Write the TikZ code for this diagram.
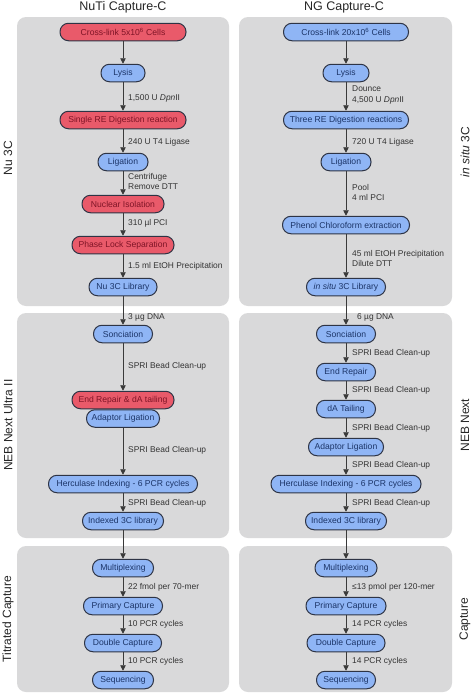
\documentclass[tikz,border=0pt]{standalone}
\usepackage{fontspec}
\setmainfont{Liberation Sans}
\usetikzlibrary{arrows.meta}
\definecolor{panelgray}{HTML}{D9D9DA}
\definecolor{redfill}{HTML}{E95A6A}
\definecolor{redtext}{HTML}{7E1426}
\definecolor{bluefill}{HTML}{8FB5F5}
\definecolor{bluetext}{HTML}{1C3568}
\definecolor{edgecol}{HTML}{2E3445}
\definecolor{arrowcol}{HTML}{3A3A3A}
\tikzset{
  panel/.style={fill=panelgray, draw=none, rounded corners=9pt},
  pill/.style={draw=edgecol, line width=1pt, rounded corners=8.5pt, minimum height=17.5pt, inner sep=0pt, font=\fontsize{8.6}{10}\selectfont},
  redbox/.style={pill, fill=redfill, text=redtext},
  bluebox/.style={pill, fill=bluefill, text=bluetext},
  flow/.style={draw=arrowcol, line width=0.9pt, -{Triangle[length=5.5pt,width=5.5pt]}},
  lab/.style={anchor=west, inner sep=0pt, align=left, text=black!80, font=\fontsize{8.4}{10.5}\selectfont},
  title/.style={font=\fontsize{12.5}{14}\selectfont, text=black!85},
  side/.style={rotate=90, font=\fontsize{12}{14}\selectfont, text=black!85}
}
\begin{document}
\begin{tikzpicture}[x=1pt,y=-1pt]
\useasboundingbox[fill=white] (0,0) rectangle (474,696);
% panels
\fill[panel] (17,17) rectangle (229,306);
\fill[panel] (17,313) rectangle (229,538);
\fill[panel] (17,546) rectangle (229,692);
\fill[panel] (239,17) rectangle (452,306);
\fill[panel] (239,313) rectangle (452,538);
\fill[panel] (239,546) rectangle (452,692);
% titles
\node[title] (tl) at (123,7) {NuTi Capture-C};
\node[title] (tr) at (344,7) {NG Capture-C};
% side labels
\node[side] (s1) at (8,158) {Nu 3C};
\node[side] (s2) at (8,425) {NEB Next Ultra II};
\node[side] (s3) at (8,619) {Titrated Capture};
\node[side] (s4) at (465,152) {\textit{in situ} 3C};
\node[side] (s5) at (465,425) {NEB Next};
\node[side] (s6) at (465,619) {Capture};
% left column
\node[redbox, minimum width=126pt] (L1) at (123,32) {Cross-link 5x10\textsuperscript{6} Cells};
\node[bluebox, minimum width=44pt] (L2) at (123,73) {Lysis};
\node[redbox, minimum width=126pt] (L3) at (123,120) {Single RE Digestion reaction};
\node[bluebox, minimum width=50pt] (L4) at (123,162) {Ligation};
\node[redbox, minimum width=82pt] (L5) at (123,204) {Nuclear Isolation};
\node[redbox, minimum width=102pt] (L6) at (123,245) {Phase Lock Separation};
\node[bluebox, minimum width=68pt] (L7) at (123,287) {Nu 3C Library};
\node[bluebox, minimum width=59pt] (L8) at (123,334) {Sonciation};
\node[redbox, minimum width=102pt] (L9) at (123,400) {End Repair \& dA tailing};
\node[bluebox, minimum width=73pt] (L10) at (123,418.5) {Adaptor Ligation};
\node[bluebox, minimum width=149pt] (L11) at (123,484) {Herculase Indexing - 6 PCR cycles};
\node[bluebox, minimum width=81pt] (L12) at (123,521) {Indexed 3C library};
\node[bluebox, minimum width=61pt] (L13) at (123,568) {Multiplexing};
\node[bluebox, minimum width=79pt] (L14) at (123,606) {Primary Capture};
\node[bluebox, minimum width=77pt] (L15) at (123,643) {Double Capture};
\node[bluebox, minimum width=61pt] (L16) at (123,680) {Sequencing};
\foreach \a/\b in {L1/L2,L2/L3,L3/L4,L4/L5,L5/L6,L6/L7,L7/L8,L8/L9,L10/L11,L11/L12,L12/L13,L13/L14,L14/L15,L15/L16}
  \draw[flow] (\a) -- (\b);
\node[lab] (la1) at (128,98) {1,500 U \textit{Dpn}II};
\node[lab] (la2) at (128,142) {240 U T4 Ligase};
\node[lab] (la3) at (128,181.5) {Centrifuge\\Remove DTT};
\node[lab] (la4) at (128,223) {310 µl PCI};
\node[lab] (la5) at (128,266) {1.5 ml EtOH Precipitation};
\node[lab] (la6) at (128,317) {3 µg DNA};
\node[lab] (la7) at (128,366) {SPRI Bead Clean-up};
\node[lab] (la8) at (128,450) {SPRI Bead Clean-up};
\node[lab] (la9) at (128,503) {SPRI Bead Clean-up};
\node[lab] (la10) at (128,587) {22 fmol per 70-mer};
\node[lab] (la11) at (128,624) {10 PCR cycles};
\node[lab] (la12) at (128,661) {10 PCR cycles};
% right column
\node[bluebox, minimum width=125pt] (R1) at (346,32) {Cross-link 20x10\textsuperscript{6} Cells};
\node[bluebox, minimum width=46pt] (R2) at (346,73) {Lysis};
\node[bluebox, minimum width=125pt] (R3) at (346,120) {Three RE Digestion reactions};
\node[bluebox, minimum width=50pt] (R4) at (346,162) {Ligation};
\node[bluebox, minimum width=127pt] (R5) at (346,225) {Phenol Chloroform extraction};
\node[bluebox, minimum width=79pt] (R6) at (346,287) {\textit{in situ} 3C Library};
\node[bluebox, minimum width=59pt] (R7) at (346,334) {Sonciation};
\node[bluebox, minimum width=59pt] (R8) at (346,372) {End Repair};
\node[bluebox, minimum width=59pt] (R9) at (346,409) {dA Tailing};
\node[bluebox, minimum width=75pt] (R10) at (346,447) {Adaptor Ligation};
\node[bluebox, minimum width=150pt] (R11) at (346,484) {Herculase Indexing - 6 PCR cycles};
\node[bluebox, minimum width=81pt] (R12) at (346,521) {Indexed 3C library};
\node[bluebox, minimum width=62pt] (R13) at (346,568) {Multiplexing};
\node[bluebox, minimum width=80pt] (R14) at (346,606) {Primary Capture};
\node[bluebox, minimum width=78pt] (R15) at (346,643) {Double Capture};
\node[bluebox, minimum width=59pt] (R16) at (346,680) {Sequencing};
\foreach \a/\b in {R1/R2,R2/R3,R3/R4,R4/R5,R5/R6,R6/R7,R7/R8,R8/R9,R9/R10,R10/R11,R11/R12,R12/R13,R13/R14,R14/R15,R15/R16}
  \draw[flow] (\a) -- (\b);
\node[lab] (ra1) at (352,95) {Dounce\\4,500 U \textit{Dpn}II};
\node[lab] (ra2) at (352,142) {720 U T4 Ligase};
\node[lab] (ra3) at (352,192.5) {Pool\\4 ml PCI};
\node[lab] (ra4) at (352,258.5) {45 ml EtOH Precipitation\\Dilute DTT};
\node[lab] (ra5) at (357,317) {6 µg DNA};
\node[lab] (ra6) at (352,353) {SPRI Bead Clean-up};
\node[lab] (ra7) at (352,390) {SPRI Bead Clean-up};
\node[lab] (ra8) at (352,428) {SPRI Bead Clean-up};
\node[lab] (ra9) at (352,465) {SPRI Bead Clean-up};
\node[lab] (ra10) at (352,503) {SPRI Bead Clean-up};
\node[lab] (ra11) at (352,587) {≤13 pmol per 120-mer};
\node[lab] (ra12) at (352,624) {14 PCR cycles};
\node[lab] (ra13) at (352,661) {14 PCR cycles};
\end{tikzpicture}
\end{document}
